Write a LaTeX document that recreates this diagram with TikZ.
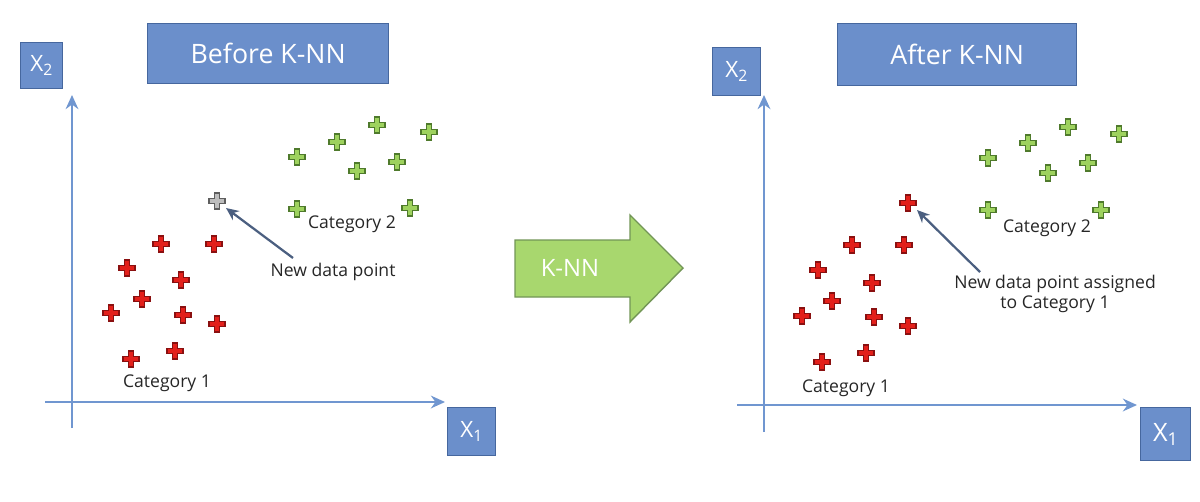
\documentclass[tikz,border=0pt]{standalone}
\usepackage{fontspec}
\setmainfont{Open Sans}
\usetikzlibrary{arrows.meta}
\definecolor{boxblue}{HTML}{6B8FCB}
\definecolor{boxedge}{HTML}{46679E}
\definecolor{axblue}{HTML}{7096D0}
\definecolor{redf}{HTML}{E3201B}
\definecolor{rede}{HTML}{8A1010}
\definecolor{grnf}{HTML}{9ED25E}
\definecolor{grne}{HTML}{4F7A2C}
\definecolor{grayf}{HTML}{BDBDBD}
\definecolor{graye}{HTML}{5E5E5E}
\definecolor{arr}{HTML}{4B5F80}
\tikzset{
 x=0.025cm,y=-0.025cm,
 box/.style={draw=boxedge,line width=1pt,fill=boxblue,text=white,inner sep=0pt,anchor=north west},
 lab/.style={font=\fontsize{12.5}{14}\selectfont,text=black!85},
 axis/.style={draw=axblue,line width=2pt,-{Stealth[length=10pt,width=9pt]}},
 pointer/.style={draw=arr,line width=1.6pt,-{Stealth[length=9pt,width=8pt]}},
 pics/plus/.style 2 args={code={
   \draw[fill=#1,draw=#2,line width=0.8pt,x=0.025cm,y=-0.025cm]
   (-2.5,-8)--(2.5,-8)--(2.5,-2.5)--(8,-2.5)--(8,2.5)--(2.5,2.5)--(2.5,8)--(-2.5,8)--(-2.5,2.5)--(-8,2.5)--(-8,-2.5)--(-2.5,-2.5)--cycle;}}
}
\begin{document}
\begin{tikzpicture}
\useasboundingbox (0,0) rectangle (1200,501);
% ---------- left panel
\node[box,minimum width=42*0.025cm,minimum height=46*0.025cm,font=\fontsize{16}{18}\selectfont] (lx2) at (20,42) {X\textsubscript{2}};
\node[box,minimum width=241*0.025cm,minimum height=60*0.025cm,font=\fontsize{19}{22}\selectfont] (lt) at (147,23) {Before K-NN};
\node[box,minimum width=48*0.025cm,minimum height=48*0.025cm,font=\fontsize{16}{18}\selectfont] (lx1) at (447,407) {X\textsubscript{1}};
\coordinate (ly0) at (72,428); \coordinate (ly1) at (72,95);
\coordinate (lx0) at (45,402); \coordinate (lxe) at (445,402);
\draw[axis] (ly0)--(ly1);
\draw[axis] (lx0)--(lxe);
\foreach \p in {(161,244),(214,244),(127,268),(181,280),(142,299),(111,313),(183,315),(217,324),(131,359),(175,351)}
  \pic at \p {plus={redf}{rede}};
\foreach \p in {(377,125),(429,132),(297,157),(337,142),(397,162),(357,171),(297,209),(410,208)}
  \pic at \p {plus={grnf}{grne}};
\pic at (217,201) {plus={grayf}{graye}};
\coordinate (lnp) at (226,208);
\node[lab] (lnew) at (333,272) {New data point};
\draw[pointer] (293,258) -- (lnp);
\node[lab] (lc2) at (352,224) {Category 2};
\node[lab] (lc1) at (167,383) {Category 1};
% ---------- middle arrow
\draw[fill=grnf!90!white,draw=grne!80,line width=1pt] (515,240)--(630,240)--(630,215)--(683,268)--(630,322)--(630,297)--(515,297)--cycle;
\node[text=white,font=\fontsize{17}{20}\selectfont] (knn) at (570,268) {K-NN};
% ---------- right panel
\node[box,minimum width=48*0.025cm,minimum height=48*0.025cm,font=\fontsize{16}{18}\selectfont] (rx2) at (712,47) {X\textsubscript{2}};
\node[box,minimum width=239*0.025cm,minimum height=62*0.025cm,font=\fontsize{19}{22}\selectfont] (rt) at (837,23) {After K-NN};
\node[box,minimum width=50*0.025cm,minimum height=53*0.025cm,font=\fontsize{18}{20}\selectfont] (rx1) at (1140,407) {X\textsubscript{1}};
\coordinate (ry0) at (764,432); \coordinate (ry1) at (764,95);
\coordinate (rx0) at (737,405); \coordinate (rxe) at (1137,405);
\draw[axis] (ry0)--(ry1);
\draw[axis] (rx0)--(rxe);
\foreach \p in {(908,203),(852,245),(904,245),(818,270),(872,283),(832,301),(802,316),(874,317),(908,326),(822,362),(866,353)}
  \pic at \p {plus={redf}{rede}};
\foreach \p in {(1068,127),(1119,134),(988,158),(1028,143),(1088,163),(1048,173),(988,210),(1101,210)}
  \pic at \p {plus={grnf}{grne}};
\coordinate (rnp) at (917,210);
\node[lab,align=center] (rnew) at (1055,294) {New data point assigned\\to Category 1};
\draw[pointer] (980,272) -- (rnp);
\node[lab] (rc2) at (1047,228) {Category 2};
\node[lab] (rc1) at (846,388) {Category 1};
\end{tikzpicture}
\end{document}
